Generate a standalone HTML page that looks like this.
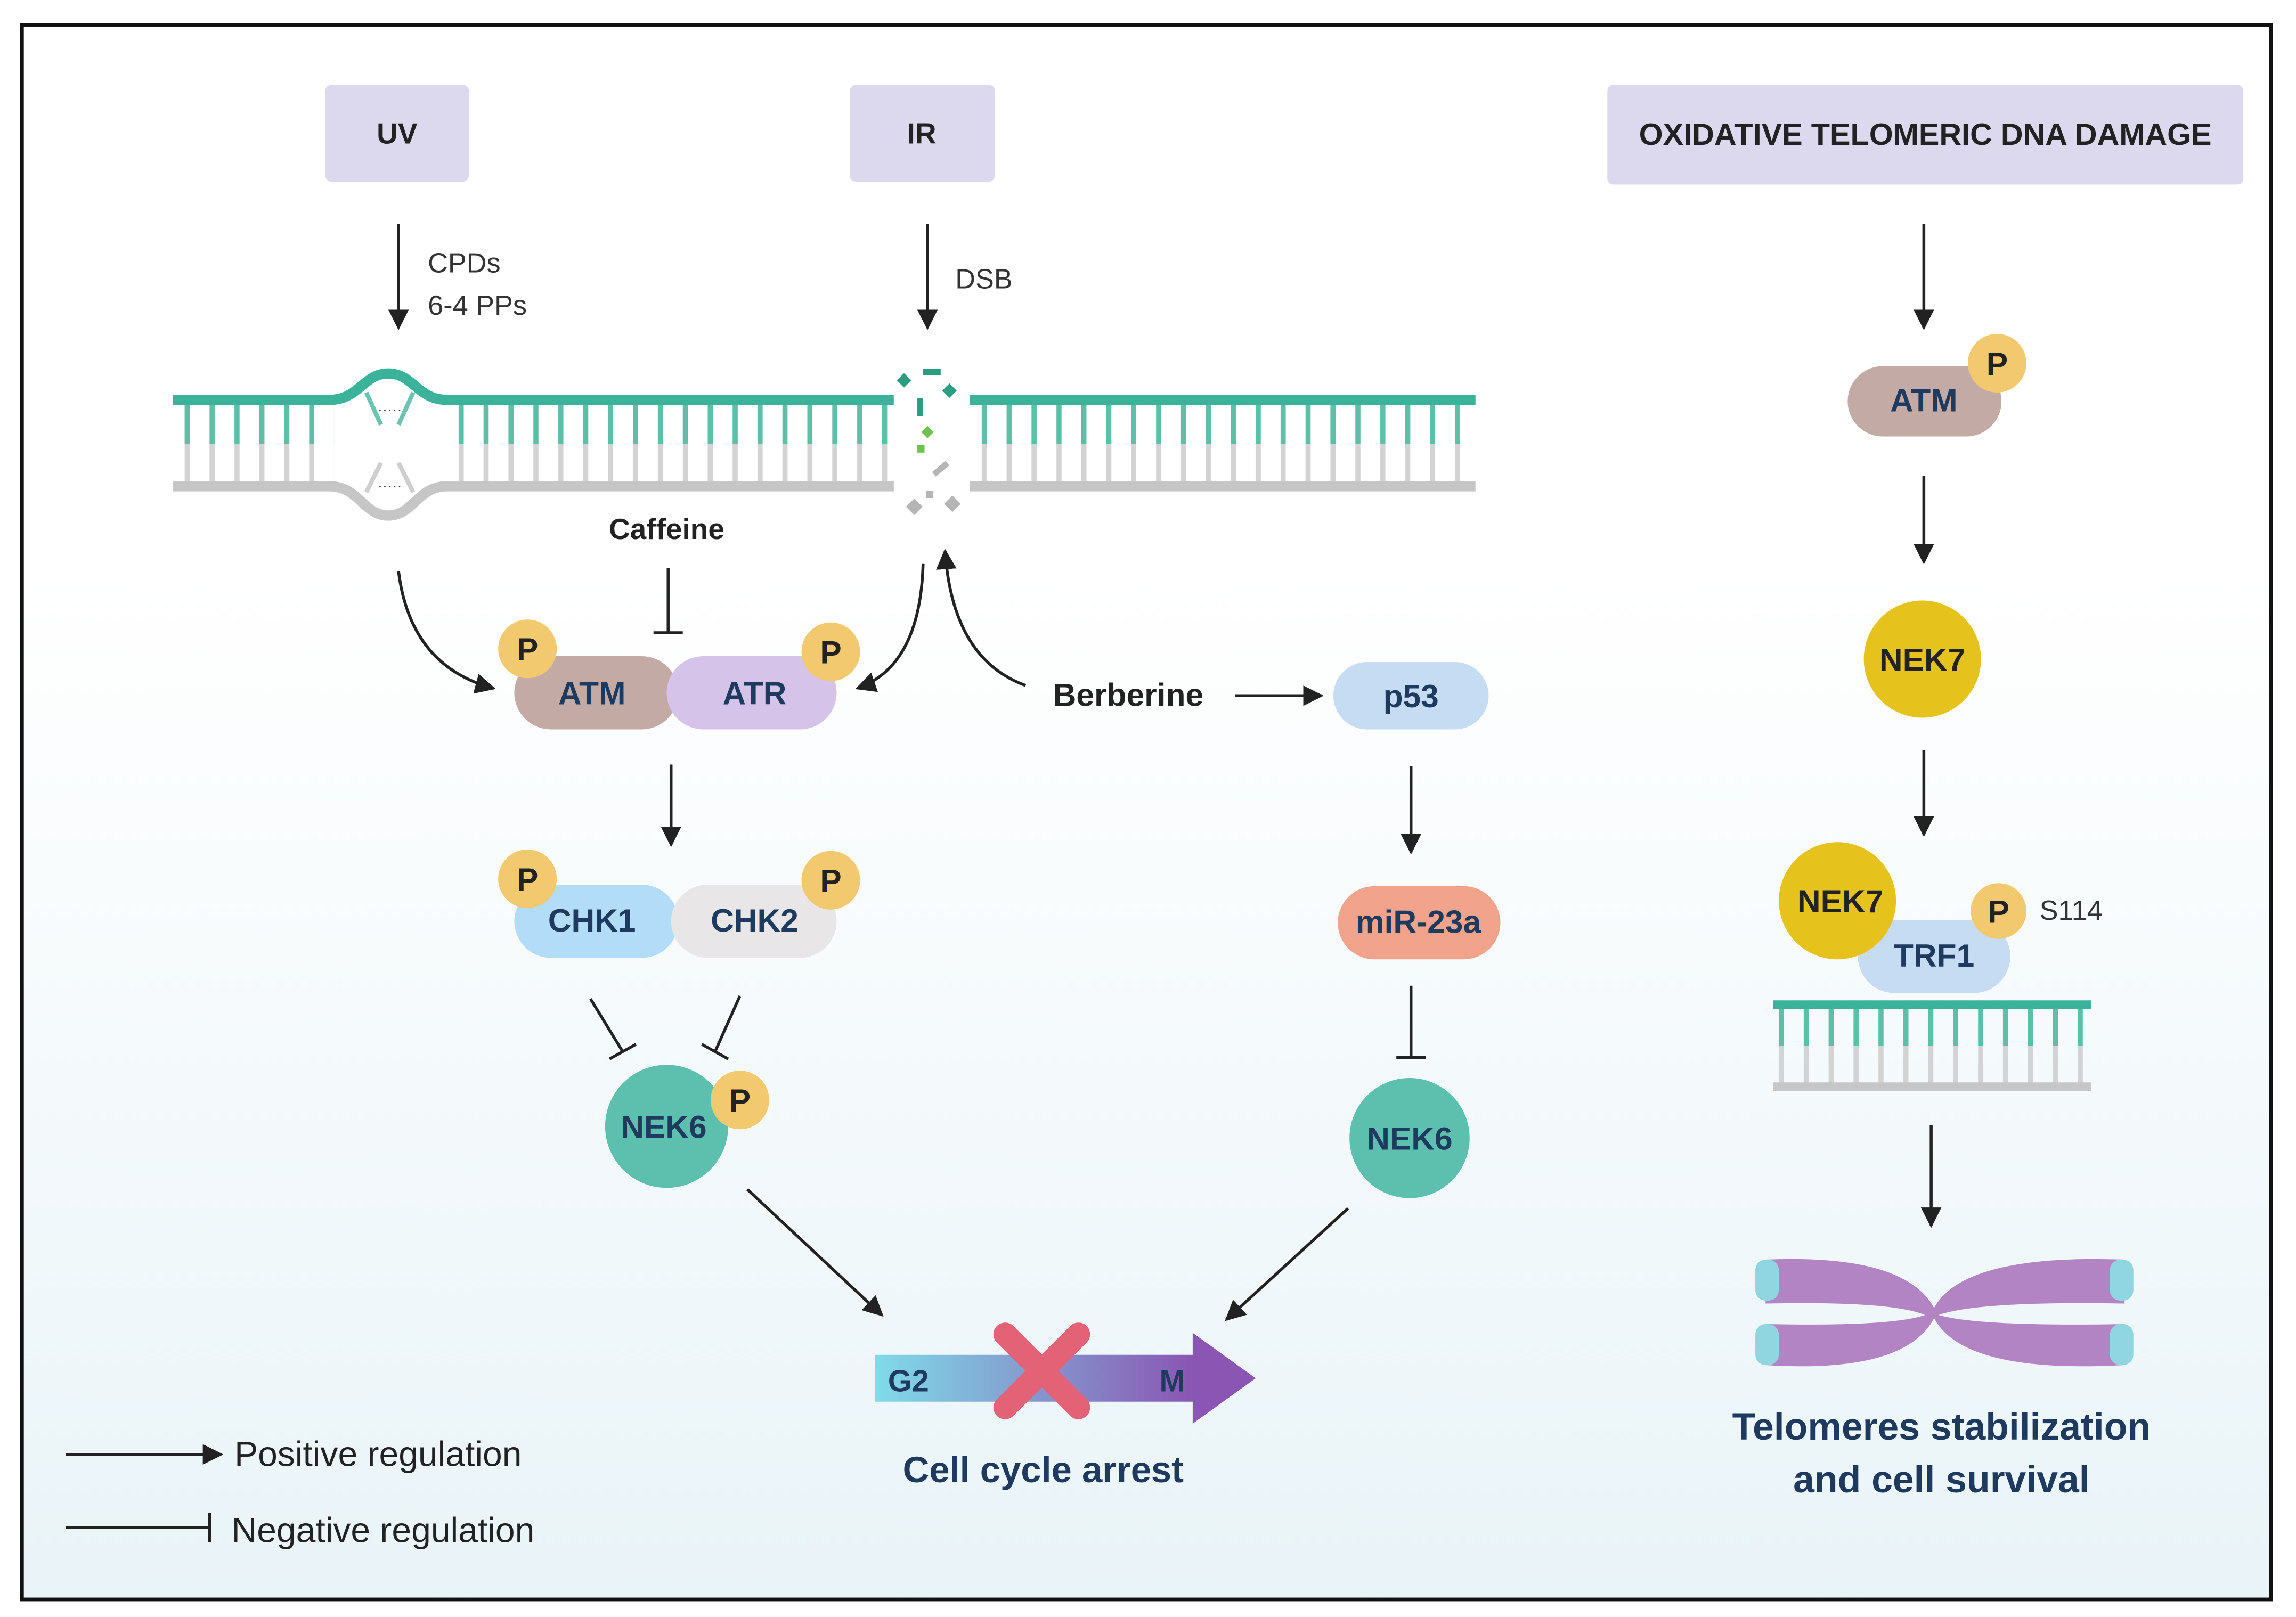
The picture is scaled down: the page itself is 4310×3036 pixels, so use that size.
<!DOCTYPE html>
<html><head><meta charset="utf-8"><style>
html,body{margin:0;padding:0;background:#fff}
svg{display:block}
text{font-family:"Liberation Sans",sans-serif}
.n{font-weight:bold;fill:#1e3a5f;font-size:22px;text-anchor:middle}
.t{font-size:19px;fill:#333}
</style></head><body>
<svg width="4310" height="3036" viewBox="0 0 1567 1104" preserveAspectRatio="none" xmlns="http://www.w3.org/2000/svg">
<defs>
<linearGradient id="bg" x1="0" y1="0" x2="0" y2="1"><stop offset="0.35" stop-color="#ffffff"/><stop offset="1" stop-color="#e9f4f8"/></linearGradient>
<linearGradient id="ar" x1="0" y1="0" x2="1" y2="0"><stop offset="0" stop-color="#7fdbe8"/><stop offset="1" stop-color="#8a55b3"/></linearGradient>
<marker id="a" viewBox="0 0 10 10" refX="9" refY="5" markerWidth="7" markerHeight="7" orient="auto-start-reverse"><path d="M0,0L10,5L0,10z" fill="#222"/></marker>
<pattern id="rt" x="0" y="276" width="17" height="54" patternUnits="userSpaceOnUse"><rect x="7" y="0" width="3.5" height="27" fill="#5dbfa8"/><rect x="7" y="27" width="3.5" height="27" fill="#d3d3d3"/></pattern>
<pattern id="rt2" x="0" y="688" width="17" height="52" patternUnits="userSpaceOnUse"><rect x="7" y="0" width="3.5" height="26" fill="#5dbfa8"/><rect x="7" y="26" width="3.5" height="26" fill="#d3d3d3"/></pattern>
</defs>
<rect x="15" y="17" width="1535" height="1075" fill="url(#bg)" stroke="#111" stroke-width="2.5"/>

<rect x="222" y="58" width="98" height="66" rx="4" fill="#dcd9ee"/><text x="271" y="98" class="n" style="font-size:20px;fill:#222">UV</text>
<rect x="580" y="58" width="99" height="66" rx="4" fill="#dcd9ee"/><text x="629" y="98" class="n" style="font-size:20px;fill:#222">IR</text>
<rect x="1097" y="58" width="434" height="68" rx="4" fill="#dcd9ee"/><text x="1314" y="99" class="n" style="font-size:21px;fill:#222">OXIDATIVE TELOMERIC DNA DAMAGE</text>

<g stroke="#222" stroke-width="2" fill="none">
<line x1="272" y1="153" x2="272" y2="224" marker-end="url(#a)"/>
<line x1="633" y1="153" x2="633" y2="224" marker-end="url(#a)"/>
<path d="M272,390 Q280,455 337,470" marker-end="url(#a)"/>
<path d="M630,385 Q628,455 585,470" marker-end="url(#a)"/>
<path d="M700,468 Q650,450 645,376" marker-end="url(#a)"/>
<line x1="456" y1="388" x2="456" y2="432"/><line x1="446" y1="432" x2="466" y2="432"/>
<line x1="843" y1="475" x2="902" y2="475" marker-end="url(#a)"/>
<line x1="458" y1="522" x2="458" y2="577" marker-end="url(#a)"/>
<line x1="963" y1="523" x2="963" y2="582" marker-end="url(#a)"/>
<line x1="963" y1="673" x2="963" y2="722"/><line x1="953" y1="722" x2="973" y2="722"/>
<line x1="403" y1="682" x2="425" y2="718"/><line x1="416" y1="723" x2="434" y2="713"/>
<line x1="505" y1="680" x2="488" y2="718"/><line x1="479" y1="713" x2="497" y2="723"/>
<line x1="510" y1="812" x2="602" y2="898" marker-end="url(#a)"/>
<line x1="920" y1="825" x2="837" y2="901" marker-end="url(#a)"/>
<line x1="45" y1="993" x2="151" y2="993" marker-end="url(#a)"/>
<line x1="45" y1="1043" x2="143" y2="1043"/><line x1="143" y1="1033" x2="143" y2="1053"/>
<line x1="1313" y1="153" x2="1313" y2="224" marker-end="url(#a)"/>
<line x1="1313" y1="325" x2="1313" y2="384" marker-end="url(#a)"/>
<line x1="1313" y1="512" x2="1313" y2="570" marker-end="url(#a)"/>
<line x1="1318" y1="768" x2="1318" y2="837" marker-end="url(#a)"/>
</g>
<text x="292" y="186" class="t">CPDs</text><text x="292" y="215" class="t">6-4 PPs</text>
<text x="652" y="197" class="t">DSB</text>

<!-- DNA -->
<rect x="118" y="276" width="492" height="54" fill="url(#rt)"/>
<rect x="662" y="276" width="345" height="54" fill="url(#rt)"/>
<rect x="228" y="276" width="76" height="58" fill="#fff"/>
<path d="M118,273 L225,273 C245,273 248,255 265,255 C282,255 285,273 305,273 L610,273" stroke="#3bb39a" stroke-width="7" fill="none"/>
<path d="M118,332 L225,332 C245,332 248,352 265,352 C282,352 285,332 305,332 L610,332" stroke="#c6c6c6" stroke-width="7" fill="none"/>
<path d="M250,268 L260,290 M282,268 L272,290 M250,336 L260,316 M282,336 L272,316" stroke="#6cc4b0" stroke-width="3"/>
<path d="M250,336 L260,316 M282,336 L272,316" stroke="#cfcfcf" stroke-width="3"/>
<text x="266" y="283" font-size="10" text-anchor="middle" fill="#333">·····</text>
<text x="266" y="335" font-size="10" text-anchor="middle" fill="#333">·····</text>
<line x1="662" y1="273" x2="1007" y2="273" stroke="#3bb39a" stroke-width="7"/>
<line x1="662" y1="332" x2="1007" y2="332" stroke="#c6c6c6" stroke-width="7"/>
<g fill="#2a9e80"><rect x="614" y="256" width="7" height="7" transform="rotate(45 617 259)"/><rect x="645" y="263" width="7" height="7" transform="rotate(45 648 266)"/><rect x="630" y="252" width="12" height="4"/><rect x="626" y="272" width="4" height="12"/></g>
<g fill="#6cc44f"><rect x="630" y="292" width="6" height="6" transform="rotate(45 633 295)"/><rect x="626" y="304" width="5" height="5"/></g>
<g fill="#b5b5b5"><rect x="636" y="318" width="12" height="4" transform="rotate(-40 642 320)"/><rect x="620" y="342" width="8" height="8" transform="rotate(45 624 346)"/><rect x="646" y="340" width="8" height="8" transform="rotate(45 650 344)"/><rect x="632" y="335" width="5" height="5"/></g>

<text x="455" y="368" class="n" style="font-size:20px;fill:#222">Caffeine</text>

<rect x="351" y="448" width="112" height="50" rx="25" fill="#c4aaa4"/>
<rect x="455" y="448" width="116" height="50" rx="25" fill="#d5c3ea"/>
<text x="404" y="481" class="n">ATM</text><text x="515" y="481" class="n">ATR</text>
<circle cx="360" cy="443" r="20" fill="#f2c96e"/><text x="360" y="451" class="n" style="fill:#222">P</text>
<circle cx="567" cy="445" r="20" fill="#f2c96e"/><text x="567" y="453" class="n" style="fill:#222">P</text>

<text x="770" y="482" class="n" style="fill:#222">Berberine</text>
<rect x="910" y="452" width="106" height="46" rx="23" fill="#c5dcf2"/><text x="963" y="483" class="n">p53</text>

<rect x="351" y="604" width="112" height="50" rx="25" fill="#b3dcf8"/>
<rect x="458" y="604" width="113" height="50" rx="25" fill="#e8e6e6"/>
<text x="404" y="636" class="n">CHK1</text><text x="515" y="636" class="n">CHK2</text>
<circle cx="360" cy="600" r="20" fill="#f2c96e"/><text x="360" y="608" class="n" style="fill:#222">P</text>
<circle cx="567" cy="601" r="20" fill="#f2c96e"/><text x="567" y="609" class="n" style="fill:#222">P</text>

<rect x="913" y="605" width="111" height="50" rx="25" fill="#f2a38c"/><text x="968" y="637" class="n">miR-23a</text>

<circle cx="455" cy="769" r="42" fill="#5dbfae"/><text x="453" y="777" class="n">NEK6</text>
<circle cx="505" cy="751" r="20" fill="#f2c96e"/><text x="505" y="759" class="n" style="fill:#222">P</text>
<circle cx="962" cy="777" r="41" fill="#5dbfae"/><text x="962" y="785" class="n">NEK6</text>

<rect x="597" y="925" width="219" height="32" fill="url(#ar)"/>
<path d="M814,910 L857,941 L814,972 Z" fill="#8a55b3"/>
<text x="620" y="950" class="n" style="fill:#1e3a5f;font-size:21px">G2</text>
<text x="800" y="950" class="n" style="fill:#1e3a5f;font-size:21px">M</text>
<g stroke="#e36275" stroke-width="16" stroke-linecap="round"><line x1="686" y1="911" x2="736" y2="961"/><line x1="736" y1="911" x2="686" y2="961"/></g>
<text x="712" y="1012" class="n" style="font-size:25px">Cell cycle arrest</text>

<text x="160" y="1001" style="font-size:24px;fill:#222">Positive regulation</text>
<text x="158" y="1053" style="font-size:24px;fill:#222">Negative regulation</text>

<rect x="1261" y="250" width="105" height="48" rx="24" fill="#c4aaa4"/><text x="1313" y="281" class="n">ATM</text>
<circle cx="1363" cy="248" r="20" fill="#f2c96e"/><text x="1363" y="256" class="n" style="fill:#222">P</text>
<circle cx="1312" cy="450" r="40" fill="#e6c21c"/><text x="1312" y="458" class="n" style="fill:#222">NEK7</text>
<rect x="1268" y="628" width="104" height="50" rx="25" fill="#c5dcf2"/><text x="1320" y="660" class="n">TRF1</text>
<circle cx="1254" cy="615" r="40" fill="#e6c21c"/><text x="1256" y="623" class="n" style="fill:#222">NEK7</text>
<circle cx="1364" cy="622" r="19" fill="#f2c96e"/><text x="1364" y="630" class="n" style="fill:#222">P</text>
<text x="1392" y="628" class="t">S114</text>
<rect x="1210" y="688" width="217" height="52" fill="url(#rt2)"/>
<line x1="1210" y1="686" x2="1427" y2="686" stroke="#3bb39a" stroke-width="6"/>
<line x1="1210" y1="742" x2="1427" y2="742" stroke="#c6c6c6" stroke-width="6"/>
<g fill="#b384c4">
<path d="M1205,860 Q1300,856 1320,893 Q1340,856 1450,860 L1450,890 Q1340,888 1318,900 Q1300,888 1205,890 Z"/>
<path d="M1205,904 Q1300,906 1318,896 Q1340,906 1450,904 L1450,932 Q1340,938 1320,900 Q1300,938 1205,932 Z"/>
</g>
<g fill="#8fd6e0"><rect x="1198" y="860" width="16" height="28" rx="7"/><rect x="1440" y="860" width="16" height="28" rx="7"/><rect x="1198" y="904" width="16" height="28" rx="7"/><rect x="1440" y="904" width="16" height="28" rx="7"/></g>
<text x="1325" y="983" class="n" style="font-size:26px">Telomeres stabilization</text>
<text x="1325" y="1019" class="n" style="font-size:26px">and cell survival</text>
</svg>
</body></html>
